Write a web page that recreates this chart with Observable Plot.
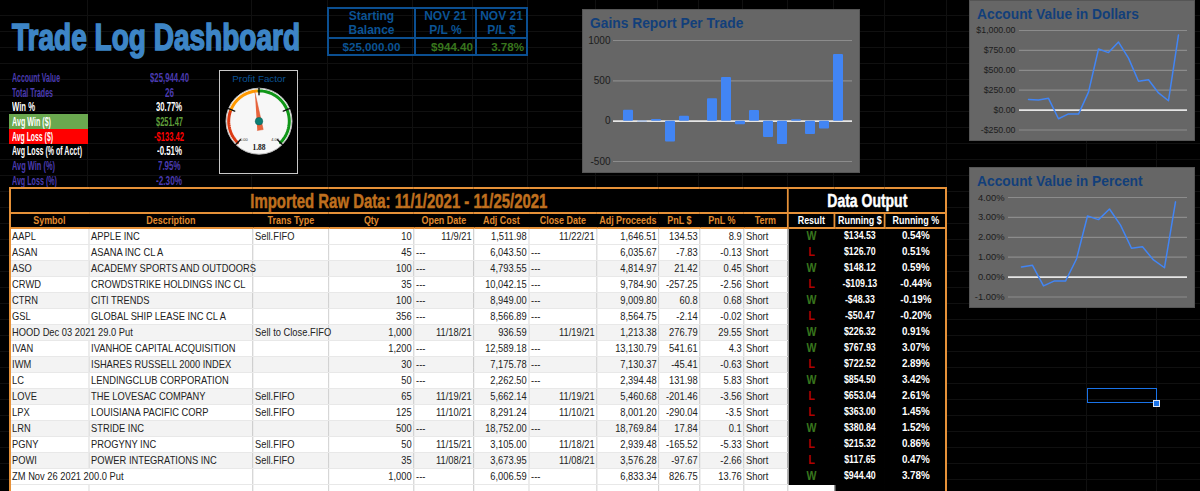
<!DOCTYPE html>
<html><head><meta charset="utf-8">
<script src="https://cdn.jsdelivr.net/npm/d3@7"></script>
<script src="https://cdn.jsdelivr.net/npm/@observablehq/plot@0.6"></script>
<style>
html,body{margin:0;padding:0;background:#000;width:1200px;height:491px;overflow:hidden;font-family:"Liberation Sans",Arial,sans-serif}
#page{position:relative;width:1200px;height:491px;overflow:hidden;
 background-image:
  repeating-linear-gradient(to bottom,transparent 0,transparent 15px,#101010 15px,#101010 16px),
  linear-gradient(to right,transparent 87px,#101010 87px,#101010 88px,transparent 88px,transparent 251px,#101010 251px,#101010 252px,transparent 252px,transparent 327px,#101010 327px,#101010 328px,transparent 328px,transparent 412px,#101010 412px,#101010 413px,transparent 413px,transparent 472px,#101010 472px,#101010 473px,transparent 473px,transparent 527px,#101010 527px,#101010 528px,transparent 528px,transparent 595px,#101010 595px,#101010 596px,transparent 596px,transparent 657px,#101010 657px,#101010 658px,transparent 658px,transparent 698px,#101010 698px,#101010 699px,transparent 699px,transparent 742px,#101010 742px,#101010 743px,transparent 743px,transparent 787px,#101010 787px,#101010 788px,transparent 788px,transparent 833px,#101010 833px,#101010 834px,transparent 834px,transparent 884px,#101010 884px,#101010 885px,transparent 885px,transparent 946px,#101010 946px,#101010 947px,transparent 947px,transparent 1086px,#101010 1086px,#101010 1087px,transparent 1087px,transparent 1156px,#101010 1156px,#101010 1157px,transparent 1157px)}
.abs{position:absolute}
.imp{font-family:"Liberation Sans",Arial,sans-serif;font-weight:700;white-space:nowrap;transform-origin:left center}
.chartTitle{position:absolute;font-weight:700;font-size:15px;color:#123f7a;white-space:nowrap;line-height:18px;transform:scaleX(.92);transform-origin:left center}
.panel svg{display:block}
.panel{position:absolute}
#pl{position:absolute;left:327px;top:7px;border-collapse:collapse;table-layout:fixed;width:201px;height:48px}
#pl td{border:2px solid #0b4f91;text-align:center;color:#0b5394;font-weight:700;font-size:12px;line-height:14px;padding:0}
#pl td.v{font-size:11.6px;height:15px}
#pl td.g{color:#38761d;text-align:right;padding-right:2px}
.k{position:absolute;left:12px;height:15px;line-height:15px;font-size:13px}
.kv{position:absolute;height:15px;line-height:15px;font-size:13px}
#tw{position:absolute;left:9px;top:187px;width:938px;height:304px;overflow:hidden}
#t{border-collapse:collapse;table-layout:fixed;width:1064.8px;font-size:10.6px;color:#222;transform:scaleX(.88);transform-origin:left top}
#t td,#t th{padding:0 2px;overflow:hidden;white-space:nowrap;box-sizing:border-box}
#t tr.d td{height:16px;line-height:14px;background:#fff;border:1px solid #e8e8e8;overflow:visible}
#t tr.d.b td{background:#f3f3f3}
#t tr.d td.n{text-align:right}
#t tr.d td.o{background:#000;border:1px solid #000;color:#fff;font-weight:700;text-align:center}
#t tr.d td.rr{font-size:12px}
#t tr.d td.rd{font-size:10px}
#t tr.d td.rp{font-size:11.2px;padding:0;vertical-align:top;line-height:13px}
#t tr.h th{height:15px;background:#000;color:#e08a2e;font-size:10.2px;font-weight:700;border:0;border-bottom:2px solid #e69138;overflow:visible}
#t tr.h th.w{color:#fff;border:2px solid #e69138}
#t tr.h th.w2{color:#fff;border:2px solid #e69138;border-left:0}
#t tr.top th{height:25px;background:#000;border:2px solid #e69138;padding:0;overflow:visible}
#edge{position:absolute;left:945px;top:187px;width:2px;height:304px;background:#e69138}
#edgeL{position:absolute;left:9px;top:187px;width:2px;height:304px;background:#e69138}
#sel{position:absolute;left:1087px;top:388px;width:70px;height:15px;border:1.5px solid #1a73e8;box-sizing:border-box}
#hd{position:absolute;left:1154px;top:401px;width:5px;height:5px;background:#1a73e8;outline:1px solid #dfe8f5}
</style></head>
<body><div id="page">
<div class="abs imp" id="mainTitle" style="left:12px;top:18px;font-size:36px;line-height:40px;color:#3d85c6;-webkit-text-stroke:1.6px #3d85c6">Trade Log Dashboard</div>
<table id="pl"><tr><td style="width:85px">Starting<br>Balance</td><td style="width:59px">NOV 21<br>P/L %</td><td>NOV 21<br>P/L $</td></tr>
<tr><td class="v" id="sb"></td><td class="v g" id="plD"></td><td class="v g" id="plP"></td></tr></table>
<div id="kpi"></div>
<div class="panel" id="gauge" style="left:219px;top:70px"></div>
<div class="panel" id="c1" style="left:582px;top:9px"></div>
<div class="chartTitle" style="left:590px;top:14px">Gains Report Per Trade</div>
<div class="panel" id="c2" style="left:969px;top:0"></div>
<div class="chartTitle" style="left:977px;top:5px">Account Value in Dollars</div>
<div class="panel" id="c3" style="left:969px;top:167px"></div>
<div class="chartTitle" style="left:977px;top:172px">Account Value in Percent</div>
<div id="tw"><table id="t"></table></div>
<div id="edgeL"></div><div id="edge"></div>
<div id="sel"></div><div id="hd"></div>
</div>
<script>
// ---- data ----
const symbols=["AAPL","ASAN","ASO","CRWD","CTRN","GSL","HOOD Dec 03 2021 29.0 Put","IVAN","IWM","LC","LOVE","LPX","LRN","PGNY","POWI","ZM Nov 26 2021 200.0 Put"];
const descriptions=["APPLE INC","ASANA INC CL A","ACADEMY SPORTS AND OUTDOORS","CROWDSTRIKE HOLDINGS INC CL","CITI TRENDS","GLOBAL SHIP LEASE INC CL A","","IVANHOE CAPITAL ACQUISITION","ISHARES RUSSELL 2000 INDEX","LENDINGCLUB CORPORATION","THE LOVESAC COMPANY","LOUISIANA PACIFIC CORP","STRIDE INC","PROGYNY INC","POWER INTEGRATIONS INC",""];
const transTypes=["Sell.FIFO","","","","","","Sell to Close.FIFO","","","","Sell.FIFO","Sell.FIFO","","Sell.FIFO","Sell.FIFO",""];
const qtys=["10","45","100","35","100","356","1,000","1,200","30","50","65","125","500","50","35","1,000"];
const openDates=["11/9/21","---","---","---","---","---","11/18/21","---","---","---","11/19/21","11/10/21","---","11/15/21","11/08/21","---"];
const adjCosts=["1,511.98","6,043.50","4,793.55","10,042.15","8,949.00","8,566.89","936.59","12,589.18","7,175.78","2,262.50","5,662.14","8,291.24","18,752.00","3,105.00","3,673.95","6,006.59"];
const closeDates=["11/22/21","---","---","---","---","---","11/19/21","---","---","---","11/19/21","11/10/21","---","11/18/21","11/08/21","---"];
const adjProceeds=["1,646.51","6,035.67","4,814.97","9,784.90","9,009.80","8,564.75","1,213.38","13,130.79","7,130.37","2,394.48","5,460.68","8,001.20","18,769.84","2,939.48","3,576.28","6,833.34"];
const pnlDollars=[134.53,-7.83,21.42,-257.25,60.8,-2.14,276.79,541.61,-45.41,131.98,-201.46,-290.04,17.84,-165.52,-97.67,826.75];
const pnlPercents=["8.9","-0.13","0.45","-2.56","0.68","-0.02","29.55","4.3","-0.63","5.83","-3.56","-3.5","0.1","-5.33","-2.66","13.76"];
const runningDollars=[134.53,126.70,148.12,-109.13,-48.33,-50.47,226.32,767.93,722.52,854.50,653.04,363.00,380.84,215.32,117.65,944.40];
const runningPercents=[0.54,0.51,0.59,-0.44,-0.19,-0.20,0.91,3.07,2.89,3.42,2.61,1.45,1.52,0.86,0.47,3.78];
const results=["W","L","W","L","W","L","W","W","L","W","L","L","W","L","L","W"];
const headers=["Symbol","Description","Trans Type","Qty","Open Date","Adj Cost","Close Date","Adj Proceeds","PnL $","PnL %","Term"];
const kpiLabels=["Account Value","Total Trades","Win %","Avg Win ($)","Avg Loss ($)","Avg Loss (% of Acct)","Avg Win (%)","Avg Loss (%)"];
const kpiValues=["$25,944.40","26","30.77%","$251.47","-$133.42","-0.51%","7.95%","-2.30%"];
const profitFactor=1.88, gaugeMax=4;
const gaugeBands=[[0,1,"#dc3912"],[1,2,"#ff9900"],[2,4,"#109618"]];
const gaugeTicks=[0,1,2,3,4];
const dollarTicks=[-250,0,250,500,750,1000];
const percentTicks=[-1,0,1,2,3,4];
const gainTicks=[-500,0,500,1000];

// ---- helpers ----
const money=v=>(v<0?"-$":"$")+Math.abs(v).toLocaleString("en-US",{minimumFractionDigits:2,maximumFractionDigits:2});
const pct=v=>v.toFixed(2)+"%";
const FONT='"Liberation Sans",Arial,sans-serif';
const BLUE="#4285f4";
function frame(el,w,h){el.style.width=w+"px";el.style.height=h+"px";el.style.outline="1px solid #555";el.style.outlineOffset="-1px";}
function gridMarks(ticks,fmt,pad,fs){return [
  Plot.ruleY(ticks.filter(t=>t!==0),{stroke:"#8c8c8c",strokeWidth:1.2}),
  Plot.ruleY([0],{stroke:"#e6e6e6",strokeWidth:1.6}),
  Plot.axisY({ticks,tickFormat:fmt,tickSize:0,tickPadding:pad,fill:"#1c1c1c",fontSize:fs,label:null})
];}

// ---- charts ----
const idx=d3.range(pnlDollars.length);
document.getElementById("c1").append(Plot.plot({width:278,height:164,marginLeft:31,marginRight:8,marginTop:31,marginBottom:12,
  style:{background:"#666",fontFamily:FONT},
  x:{type:"band",domain:idx,padding:.32,axis:null},
  y:{domain:[-500,1000],axis:null},
  marks:[...gridMarks(gainTicks,d=>String(d),3,10),
    Plot.barY(pnlDollars,{x:(d,i)=>i,y:d=>d,fill:BLUE,rx:1})]}));
frame(document.getElementById("c1"),278,164);

document.getElementById("c2").append(Plot.plot({width:226,height:141,marginLeft:50,marginRight:8,marginTop:30,marginBottom:11.5,
  style:{background:"#666",fontFamily:FONT},
  x:{type:"point",domain:idx,padding:.5,axis:null},
  y:{domain:[-250,1000],axis:null},
  marks:[...gridMarks(dollarTicks,money,4,8.8),
    Plot.line(runningDollars,{x:(d,i)=>i,y:d=>d,stroke:BLUE,strokeWidth:1.5})]}));
frame(document.getElementById("c2"),226,141);

const pctSeries=runningPercents.slice(1);
document.getElementById("c3").append(Plot.plot({width:226,height:141,marginLeft:39,marginRight:8,marginTop:30,marginBottom:11.5,
  style:{background:"#666",fontFamily:FONT},
  x:{type:"point",domain:d3.range(pctSeries.length),padding:.5,axis:null},
  y:{domain:[-1,4],axis:null},
  marks:[...gridMarks(percentTicks,pct,4,9.4),
    Plot.line(pctSeries,{x:(d,i)=>i,y:d=>d,stroke:BLUE,strokeWidth:1.5})]}));
frame(document.getElementById("c3"),226,141);

// ---- gauge ----
const ang=v=>(-135+270*v/gaugeMax)*Math.PI/180;
const px=(v,r)=>r*Math.sin(ang(v)), py=(v,r)=>r*Math.cos(ang(v));
const arcMarks=gaugeBands.map(([a,b,c])=>{
  const vs=d3.range(a,b+1e-9,(b-a)/40);
  return Plot.line(vs,{x:v=>px(v,.92),y:v=>py(v,.92),stroke:c,strokeWidth:3,curve:"linear"});
});
const tickSegs=gaugeTicks.flatMap(t=>[{t,r:.8},{t,r:1}]);
const na=ang(profitFactor),perp=na+Math.PI/2;
const needle=[[.9*Math.sin(na),.9*Math.cos(na)],[-.27*Math.sin(na)+.09*Math.sin(perp),-.27*Math.cos(na)+.09*Math.cos(perp)],[-.27*Math.sin(na)-.09*Math.sin(perp),-.27*Math.cos(na)-.09*Math.cos(perp)]];
document.getElementById("gauge").append(Plot.plot({width:79,height:104,margin:0,
  style:{background:"#000",fontFamily:FONT},
  x:{domain:[-1.2,1.2],axis:null},y:{domain:[-1.62,1.54],axis:null},
  marks:[
    Plot.dot([0],{x:0,y:0,r:33,fill:"#f7f7f7",stroke:"#bdbdbd",strokeWidth:1}),
    ...arcMarks,
    Plot.line(tickSegs,{x:d=>px(d.t,d.r),y:d=>py(d.t,d.r),z:"t",stroke:"#111",strokeWidth:1.4}),
    Plot.text(["0.00"],{x:-.46,y:-.56,fill:"#333",fontSize:4}),
    Plot.text(["4.00"],{x:.49,y:-.56,fill:"#333",fontSize:4}),
    Plot.text([profitFactor.toFixed(2)],{x:0,y:-.81,fill:"#111",fontSize:7.5,fontWeight:700,fontFamily:'"Liberation Serif",serif'}),
    Plot.line(needle,{x:d=>d[0],y:d=>d[1],fill:"#e8643c",stroke:"#d9542e",strokeWidth:.5}),
    Plot.dot([0],{x:0,y:0,r:3.8,fill:"#0d7f74",stroke:"#0a5d55",strokeWidth:.5}),
    Plot.text(["Profit Factor"],{frameAnchor:"top",dy:5,fill:"#0b5394",fontSize:9.8,fontFamily:FONT})
  ]}));
const g=document.getElementById("gauge");g.style.width="79px";g.style.height="104px";g.style.outline="1.5px solid #c8c8c8";g.style.outlineOffset="-1.5px";

// ---- KPI block ----
const kpi=document.getElementById("kpi");
const PUR="#4a3bb0";
const kpiColors=[PUR,PUR,"#fff","#fff","#fff","#fff",PUR,PUR];
const kpiValColors=[PUR,PUR,"#fff","#5f9e3a","#ff0000","#fff",PUR,PUR];
const kpiLabelW=[48,41,23,39,41,70,43,45], kpiValW=[39,9,26,27,30,25,22.5,26];
function fit(el,w){const r=el.getBoundingClientRect().width;el.style.transform=`scaleX(${w/r})`;}
kpiLabels.forEach((l,i)=>{
  const top=70+i*14.66;
  if(i===3||i===4){const b=document.createElement("div");b.className="abs";b.style.cssText=`left:9px;top:${top}px;width:79px;height:15px;background:${i===3?"#6aa84f":"#ff0000"}`;kpi.append(b);}
  const a=document.createElement("div");a.className="k imp";a.style.top=top+"px";a.style.color=kpiColors[i];a.textContent=l;kpi.append(a);fit(a,kpiLabelW[i]);
  const v=document.createElement("div");v.className="kv imp";v.style.top=top+"px";v.style.left=(169.3-kpiValW[i]/2)+"px";v.style.color=kpiValColors[i];v.textContent=kpiValues[i];kpi.append(v);fit(v,kpiValW[i]);
});

// ---- summary box ----
document.getElementById("sb").textContent="$25,000.00";
document.getElementById("plD").textContent=money(runningDollars[15]);
document.getElementById("plP").textContent=pct(runningPercents[15]);

// ---- table ----
const widths=[79,164,76,85,60,55,68,62,41,44,44,47,50,62].map(w=>w/.88);
let html="<colgroup>"+widths.map(w=>`<col style="width:${w}px">`).join("")+"</colgroup>";
html+=`<tr class="top"><th colspan="11"><span class="imp" id="tt1" style="display:inline-block;font-size:20px;line-height:22px;color:#bf6f1e;-webkit-text-stroke:.5px #bf6f1e;transform-origin:center">Imported Raw Data: 11/1/2021 - 11/25/2021</span></th><th colspan="3"><span class="imp" id="tt2" style="display:inline-block;font-size:19px;line-height:22px;color:#fff;-webkit-text-stroke:.5px #fff;transform-origin:center">Data Output</span></th></tr>`;
html+=`<tr class="h">`+headers.map(h=>`<th>${h}</th>`).join("")+`<th class="w">Result</th><th class="w2">Running $</th><th class="w2">Running %</th></tr>`;
symbols.forEach((s,i)=>{
  const band=(i%2===0&&i>0)?" b":"";
  const first=descriptions[i]===""?`<td colspan="2">${s}</td>`:`<td>${s}</td><td>${descriptions[i]}</td>`;
  const c=results[i]==="W"?"#38761d":"#b00000";
  html+=`<tr class="d${band}">${first}<td>${transTypes[i]}</td><td class="n">${qtys[i]}</td>`+
   `<td class="${openDates[i]==="---"?"":"n"}">${openDates[i]}</td><td class="n">${adjCosts[i]}</td>`+
   `<td class="${closeDates[i]==="---"?"":"n"}">${closeDates[i]}</td><td class="n">${adjProceeds[i]}</td>`+
   `<td class="n">${pnlDollars[i]}</td><td class="n">${pnlPercents[i]}</td><td>Short</td>`+
   `<td class="o rr" style="color:${c}">${results[i]}</td><td class="o rd">${money(runningDollars[i])}</td><td class="o rp">${pct(runningPercents[i])}</td></tr>`;
});
html+=`<tr class="d">`+widths.slice(0,12).map(()=>"<td></td>").join("")+`<td class="o"></td><td class="o"></td></tr>`;
document.getElementById("t").innerHTML=html;

// fit display text to its width in the picture
fit(document.getElementById("mainTitle"),288);
{const e=document.getElementById("tt1");const r=e.getBoundingClientRect().width;e.style.transform=`scaleX(${297/r})`;}
{const e=document.getElementById("tt2");const r=e.getBoundingClientRect().width;e.style.transform=`scaleX(${80/r})`;}
</script>
</body></html>
